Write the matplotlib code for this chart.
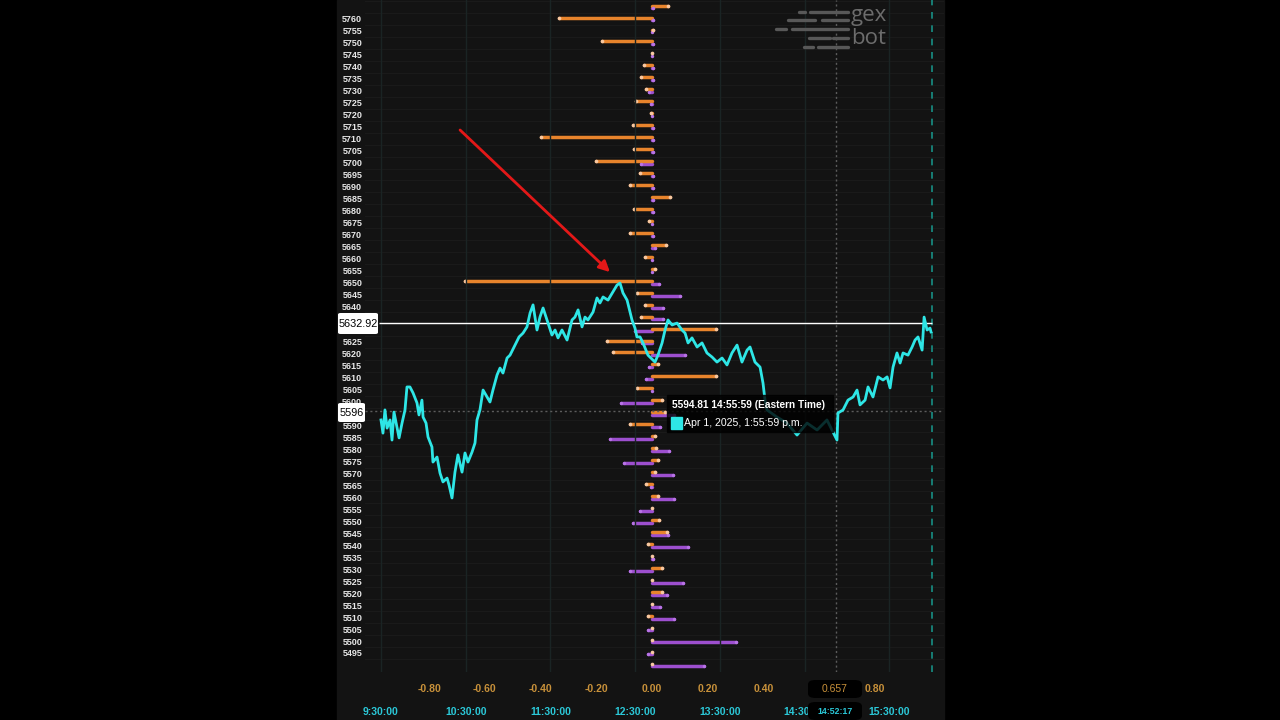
import matplotlib
matplotlib.use("Agg")
import matplotlib.pyplot as plt
from matplotlib.patches import Rectangle, FancyBboxPatch
from matplotlib.lines import Line2D

plt.rcParams['font.family'] = ['Liberation Sans', 'DejaVu Sans']

# strikes and the two gex series (orange = calls, purple = puts)
strikes = [5765, 5760, 5755, 5750, 5745, 5740, 5735, 5730, 5725, 5720,
           5715, 5710, 5705, 5700, 5695, 5690, 5685, 5680, 5675, 5670,
           5665, 5660, 5655, 5650, 5645, 5640, 5635, 5630, 5625, 5620,
           5615, 5610, 5605, 5600, 5595, 5590, 5585, 5580, 5575, 5570,
           5565, 5560, 5555, 5550, 5545, 5540, 5535, 5530, 5525, 5520,
           5515, 5510, 5505, 5500, 5495, 5490]
call_gex = [0.057, -0.333, 0.005, -0.18, 0.0, -0.03, -0.04, -0.02, -0.057, -0.005,
            -0.068, -0.40, -0.065, -0.20, -0.043, -0.08, 0.065, -0.065, -0.01, -0.08,
            0.05, -0.025, 0.01, -0.67, -0.055, -0.025, -0.04, 0.23, -0.16, -0.14,
            0.02, 0.23, -0.055, 0.035, 0.045, -0.08, 0.01, 0.015, 0.02, 0.01,
            -0.02, 0.02, 0.0, 0.025, 0.053, -0.015, 0.0, 0.035, 0.0, 0.035,
            0.0, -0.015, 0.0, 0.0, 0.0, 0.0]
put_gex = [0.003, 0.003, 0.0, 0.003, 0.0, 0.003, 0.003, -0.01, -0.005, 0.0,
           0.003, 0.003, 0.003, -0.04, 0.003, 0.003, 0.003, 0.003, 0.0, 0.003,
           0.01, 0.0, 0.0, 0.025, 0.10, 0.04, 0.04, -0.06, -0.035, 0.12,
           -0.01, -0.02, 0.0, -0.11, 0.08, 0.03, -0.15, 0.06, -0.10, 0.075,
           -0.005, 0.08, -0.043, -0.068, 0.057, 0.13, 0.005, -0.08, 0.11, 0.053,
           0.03, 0.08, -0.015, 0.30, -0.015, 0.185]
label_strikes = strikes[1:-1]

# SPX price, minutes after 9:30
price_min = [0, 1.4, 2.8, 4.3, 6.4, 7.8, 9.2, 11.3, 12.8, 14.9,
             17.0, 18.4, 20.5, 22.7, 25.5, 26.9, 29.0, 29.8, 31.9, 33.3,
             36.1, 36.8, 39.7, 41.8, 43.9, 46.8, 48.2, 50.3, 52.4, 54.5,
             57.4, 59.5, 61.6, 64.5, 66.6, 68.0, 70.1, 72.3, 75.1, 77.2,
             79.3, 82.2, 84.3, 86.4, 89.3, 91.4, 94.9, 97.8, 100.6, 103.4,
             105.6, 107.7, 110.5, 112.6, 114.8, 117.6, 121.1, 123.3, 125.4, 128.2,
             131.8, 135.3, 137.4, 139.6, 142.4, 144.5, 146.6, 150.2, 153.0, 155.1,
             157.3, 160.8, 164.3, 167.2, 169.3, 171.4, 174.3, 177.8, 179.9, 181.3,
             183.5, 185.6, 189.1, 194.1, 196.2, 199.1, 201.2, 203.3, 206.2, 209.7,
             213.2, 215.4, 217.5, 220.3, 223.9, 227.4, 230.9, 234.5, 238.0, 241.6,
             245.1, 248.6, 252.2, 255.7, 259.3, 261.4, 264.9, 268.5, 270.6, 272.0,
             273.4, 280.5, 287.6, 294.7, 301.8, 308.9, 315.9, 323.0, 323.7, 327.3,
             330.8, 334.4, 337.2, 339.3, 342.9, 345.0, 348.5, 352.1, 355.6, 358.5,
             360.6, 362.7, 365.5, 367.7, 369.8, 373.3, 376.2, 378.3, 380.4, 383.3,
             384.7, 386.8, 388.9, 389.6]
price_val = [5592.4, 5586.9, 5596.6, 5589.0, 5592.4, 5584.0, 5595.7, 5589.5, 5584.9, 5591.1,
             5596.6, 5606.2, 5606.2, 5603.7, 5599.5, 5594.5, 5600.7, 5593.6, 5591.1, 5585.3,
             5581.1, 5574.8, 5576.9, 5570.2, 5566.5, 5568.1, 5565.2, 5559.8, 5570.6, 5577.8,
             5570.6, 5578.6, 5574.8, 5579.0, 5582.8, 5592.4, 5596.6, 5604.9, 5602.0, 5599.9,
             5604.9, 5611.2, 5614.1, 5612.0, 5618.3, 5619.5, 5623.7, 5627.1, 5628.7, 5631.3,
             5637.1, 5640.5, 5630.0, 5635.4, 5639.2, 5634.2, 5627.9, 5630.0, 5626.7, 5630.0,
             5625.8, 5634.2, 5635.4, 5638.4, 5631.3, 5635.4, 5634.2, 5637.5, 5643.4, 5641.3,
             5643.8, 5642.5, 5645.9, 5648.8, 5649.6, 5645.5, 5642.5, 5634.2, 5630.8, 5627.1,
             5627.1, 5624.6, 5619.5, 5616.6, 5619.5, 5624.6, 5630.0, 5634.2, 5632.1, 5632.9,
             5630.0, 5628.7, 5624.6, 5626.7, 5622.9, 5624.6, 5620.4, 5618.7, 5616.6, 5618.3,
             5615.4, 5620.4, 5623.7, 5616.6, 5621.6, 5622.9, 5616.6, 5614.5, 5607.8, 5600.7,
             5596.6, 5593.6, 5591.1, 5586.1, 5591.1, 5588.2, 5592.4, 5584.0, 5595.3, 5596.6,
             5600.7, 5602.0, 5604.9, 5598.7, 5600.7, 5606.2, 5602.0, 5610.4, 5609.1, 5610.4,
             5605.8, 5614.5, 5620.4, 5616.2, 5620.4, 5619.5, 5622.9, 5625.8, 5627.1, 5621.6,
             5635.4, 5630.0, 5630.8, 5629.2]

time_ticks = [0, 60, 120, 180, 240, 300, 360]
time_labels = ['9:30:00', '10:30:00', '11:30:00', '12:30:00', '13:30:00', '14:30:00', '15:30:00']
gex_ticks = [-0.8, -0.6, -0.4, -0.2, 0.0, 0.2, 0.4, 0.6, 0.8]
gex_labels = ['-0.80', '-0.60', '-0.40', '-0.20', '0.00', '0.20', '0.40', '0.60', '0.80']
spot = 5632.92
cross_price = 5596
cross_min = 322.3
close_min = 390
arrow_from = (56.0, 5713.6)
arrow_to = (162.2, 5654.2)

W, H = 1280, 720
def fx(x): return x / W
def fy(y): return 1 - y / H

BG = '#131313'
CYAN = '#2ee6e6'
ORANGE = '#e8842c'
PURPLE = '#9d4fcf'
GOLD = '#c8913a'

fig = plt.figure(figsize=(12.8, 7.2), dpi=100, facecolor='black')
fig.add_artist(Rectangle((fx(337), 0), (944 - 337) / W, 1, transform=fig.transFigure,
                         color=BG, zorder=-10))

# gex axes (bars)
ax = fig.add_axes([fx(365), fy(672), (944 - 365) / W, 672 / H])
ax.set_facecolor(BG)
ax.set_xlim(-1.0296, 1.0475)
ax.set_ylim(5487.05, 5767.94)

# time axes (price line), drawn on top
ax2 = ax.twiny()
ax2.set_xlim(-11.33, 398.8)
ax2.patch.set_visible(False)

for a in (ax, ax2):
    for sp in a.spines.values():
        sp.set_visible(False)
    a.tick_params(length=0, which='both')

# faint horizontal grid between strikes
ax.set_yticks([s + 2.5 for s in strikes], minor=True)
ax.grid(which='minor', axis='y', color='#1a1a1a', lw=0.8)
ax.set_yticks(label_strikes)
ax.set_yticklabels([str(s) for s in label_strikes], color='#e8e8e8', fontsize=6.5,
                   fontweight='bold')
ax.tick_params(axis='y', which='major', pad=2)

ax.set_xticks(gex_ticks)
ax.set_xticklabels(gex_labels, color=GOLD, fontsize=7.5, fontweight='bold')
ax.tick_params(axis='x', pad=9)

ax2.xaxis.tick_bottom()
ax2.set_xticks(time_ticks)
ax2.set_xticklabels(time_labels, color='#2bc8d8', fontsize=7.5, fontweight='bold')
ax2.tick_params(axis='x', pad=25)
for t in time_ticks:
    ax2.axvline(t, color='#1a2424', lw=1, zorder=0)

# gex bars
put_y = [s - 0.6 for s in strikes]
call_y = [s + 0.6 for s in strikes]
pb = ax.hlines(put_y, 0, put_gex, color=PURPLE, lw=2.5, zorder=3)
pb.set_capstyle('round')
cb = ax.hlines(call_y, 0, call_gex, color=ORANGE, lw=2.5, zorder=4)
cb.set_capstyle('round')
ax.scatter(put_gex, put_y, s=6, color='#b874e6', zorder=5, linewidths=0)
ax.scatter(call_gex, call_y, s=7, color='#f7c8a2', zorder=5, linewidths=0)

# price line and markers
ax2.hlines(spot, -1.5, close_min, color='white', lw=1, zorder=4)
ax2.axvline(cross_min, color='#5c5c5c', lw=1, ls=(0, (1.5, 2)), zorder=2)
ax2.axhline(cross_price, color='#5c5c5c', lw=1, ls=(0, (1.5, 2)), zorder=2)
ax2.axvline(close_min, color='#178f84', lw=1.2, ls=(0, (4, 4)), zorder=2)
ax2.plot(price_min, price_val, color=CYAN, lw=2, zorder=6)
ax2.annotate('', xy=arrow_to, xytext=arrow_from,
             arrowprops=dict(arrowstyle='-|>', color='#e31818', lw=2,
                             mutation_scale=16, shrinkA=0, shrinkB=0), zorder=7)

# price labels on the left (they hide the tick labels under them)
for (x0, x1, y0, y1), txt in (((338, 378, 313, 334), '5632.92'), ((338, 365, 403, 422), '5596')):
    fig.add_artist(FancyBboxPatch((fx(x0), fy(y1)), (x1 - x0) / W, (y1 - y0) / H,
                                  boxstyle='round,pad=0,rounding_size=0.002',
                                  transform=fig.transFigure, fc='white', ec='none', zorder=8))
    fig.text(fx((x0 + x1) / 2), fy((y0 + y1) / 2), txt, ha='center', va='center',
             fontsize=7.8, color='black', zorder=9)

# tooltip
fig.add_artist(Rectangle((fx(667), fy(432)), (833 - 667) / W, (432 - 395) / H,
                         transform=fig.transFigure, color='black', alpha=0.8, zorder=8))
fig.text(fx(672), fy(404.5), '5594.81 14:55:59 (Eastern Time)', color='white', fontsize=7.3,
         fontweight='bold', va='center', zorder=9)
fig.add_artist(Rectangle((fx(671), fy(429)), 11 / W, 12 / H, transform=fig.transFigure,
                         color=CYAN, zorder=9))
fig.text(fx(684), fy(423.5), 'Apr 1, 2025, 1:55:59 p.m.', color='white', fontsize=7.6,
         va='center', zorder=9)

# crosshair badges at the bottom
for y0, y1 in ((680, 698), (702, 720)):
    fig.add_artist(FancyBboxPatch((fx(808), fy(y1)), 54 / W, (y1 - y0) / H,
                                  boxstyle='round,pad=0,rounding_size=0.006',
                                  transform=fig.transFigure, fc='black', ec='none', zorder=8))
fig.text(fx(835), fy(689), '0.657', ha='center', va='center', color=GOLD, fontsize=7.5, zorder=9)
fig.text(fx(835), fy(711.5), '14:52:17', ha='center', va='center', color='#2bc8d8',
         fontsize=6.3, fontweight='bold', zorder=9)

# gexbot logo
logo_dashes = [(12, [(799, 805), (810, 848)]), (20, [(788, 815), (822, 848)]),
               (29, [(776, 786), (792, 848)]), (38, [(809, 830), (833, 848)]),
               (47, [(804, 813), (818, 848)])]
for yy, segs in logo_dashes:
    for x0, x1 in segs:
        fig.add_artist(Line2D([fx(x0), fx(x1)], [fy(yy), fy(yy)], transform=fig.transFigure,
                              color='#585858', lw=2.4, solid_capstyle='round', zorder=3))
fig.text(fx(851), fy(16), 'gex', color='#6c6c6c', fontsize=16, va='center',
         family=['Open Sans', 'DejaVu Sans'], zorder=3)
fig.text(fx(851), fy(38), 'bot', color='#6c6c6c', fontsize=16, va='center',
         family=['Open Sans', 'DejaVu Sans'], zorder=3)

fig.savefig('out.png', dpi=100, facecolor='black')
